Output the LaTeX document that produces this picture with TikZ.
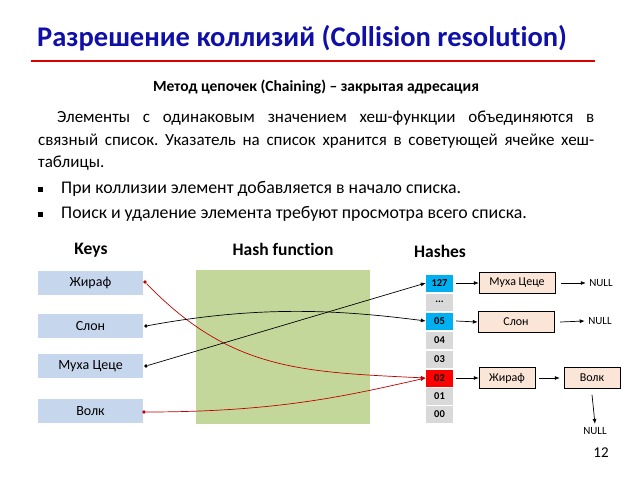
\documentclass[tikz,border=0pt]{standalone}
\usepackage{fontspec}
\setmainfont[RawFeature={-liga;-calt}]{Carlito}
\usetikzlibrary{arrows.meta}
\definecolor{ttl}{HTML}{1010A8}
\definecolor{keyc}{HTML}{C6D6EC}
\definecolor{hashg}{HTML}{C4D79B}
\definecolor{cyanc}{HTML}{00B0F0}
\definecolor{cellg}{HTML}{D9D9D9}
\definecolor{lnode}{HTML}{FBE5D6}
\definecolor{dred}{HTML}{C00000}
\tikzset{
 keybox/.style={fill=keyc,minimum width=105pt,minimum height=24pt,inner sep=0pt,font=\fontsize{14}{16}\selectfont},
 cell/.style={fill=cellg,minimum width=27pt,minimum height=17pt,inner sep=0pt,font=\bfseries\fontsize{10.5}{11}\selectfont},
 lbox/.style={draw=black,fill=lnode,minimum height=21pt,inner sep=0pt,font=\fontsize{12}{14}\selectfont},
 hdr/.style={font=\bfseries\fontsize{17.5}{20}\selectfont},
 nul/.style={font=\fontsize{11}{12}\selectfont},
 arr/.style={-{Latex[length=5pt,width=4pt]},line width=0.7pt},
 dot/.style={circle,fill,inner sep=1.4pt},
 txt/.style={font=\fontsize{17}{22.5}\selectfont,anchor=north west,inner sep=0pt},
 btxt/.style={font=\fontsize{17.8}{22.5}\selectfont,anchor=west,inner sep=0pt}
}
\begin{document}
\frenchspacing
\begin{tikzpicture}[x=1pt,y=-1pt]
\useasboundingbox[fill=white] (0,0) rectangle (638,479);
\node[font=\bfseries\fontsize{28.5}{32}\selectfont,text=ttl,anchor=west,inner sep=0pt] (title) at (37,38) {Разрешение коллизий (Collision resolution)};
\draw[red!85!black,line width=1.6pt] (31,61) -- (595,61);
\node[font=\bfseries\fontsize{15.5}{18}\selectfont,inner sep=0pt] (sub) at (316,87) {Метод цепочек (Chaining) – закрытая адресация};
\node[txt,text width=556pt,align=justify] (para) at (38,111) {\hspace*{19pt}Элементы с одинаковым значением хеш-функции объединяются в связный список. Указатель на список хранится в советующей ячейке хеш-\linebreak таблицы.};
\node[btxt] (b1) at (38,189) {\rule[2pt]{5pt}{5pt}\hspace{18pt}При коллизии элемент добавляется в начало списка.};
\node[btxt] (b2) at (38,214) {\rule[2pt]{5pt}{5pt}\hspace{18pt}Поиск и удаление элемента требуют просмотра всего списка.};

\node[hdr] (hk) at (91,250) {Keys};
\node[hdr] (hf) at (283,249) {Hash function};
\node[hdr] (hh) at (440,251) {Hashes};

\node[keybox] (k1) at (90.5,283) {Жираф};
\node[keybox] (k2) at (90.5,326) {Слон};
\node[keybox] (k3) at (90.5,366) {Муха Цеце};
\node[keybox] (k4) at (90.5,411) {Волк};
\fill[hashg] (196,270) rectangle (370,424);

\node[cell,fill=cyanc] (c127) at (439.5,283) {127};
\node[cell] (cdots) at (439.5,302) {...};
\node[cell,fill=cyanc] (c05) at (439.5,321) {05};
\node[cell] (c04) at (439.5,340) {04};
\node[cell] (c03) at (439.5,359) {03};
\node[cell,fill=red] (c02) at (439.5,378) {02};
\node[cell] (c01) at (439.5,396) {01};
\node[cell] (c00) at (439.5,414) {00};

\node[dot,dred] (d1) at (145,282) {};
\node[dot] (d2) at (146,326) {};
\node[dot] (d3) at (146,366) {};
\node[dot,dred] (d4) at (144,412) {};

\draw[arr,dred] (d1) .. controls (230,370) and (300,372) .. (c02.west);
\draw[arr] (d2) .. controls (260,305) and (340,310) .. (c05.west);
\draw[arr] (d3) -- (c127.west);
\draw[arr,dred] (d4) .. controls (280,412) and (350,395) .. (c02.west);

\node[lbox,minimum width=76pt] (m) at (517,283) {Муха Цеце};
\node[lbox,minimum width=76pt] (s) at (516,322) {Слон};
\node[lbox,minimum width=56pt] (g) at (507,378) {Жираф};
\node[lbox,minimum width=56pt] (v) at (592,378) {Волк};
\node[nul] (n1) at (601,283) {NULL};
\node[nul] (n2) at (600,321) {NULL};
\node[nul] (n3) at (595,431) {NULL};

\draw[arr] (c127.east) ++(3,0) -- (m.west);
\draw[arr] (c05.east) ++(3,0) -- (s.west);
\draw[arr] (c02.east) ++(3,0) -- (g.west);
\draw[arr] (m.east) ++(6,0) -- (n1.west);
\draw[arr] (s.east) ++(6,0) -- (n2.west);
\draw[arr] (g.east) ++(4,0) -- ([xshift=-4pt]v.west);
\draw[arr] ([yshift=-6pt]v.south) -- (n3.north);
\node[font=\fontsize{15}{17}\selectfont] (pg) at (601,453) {12};
\end{tikzpicture}
\end{document}
